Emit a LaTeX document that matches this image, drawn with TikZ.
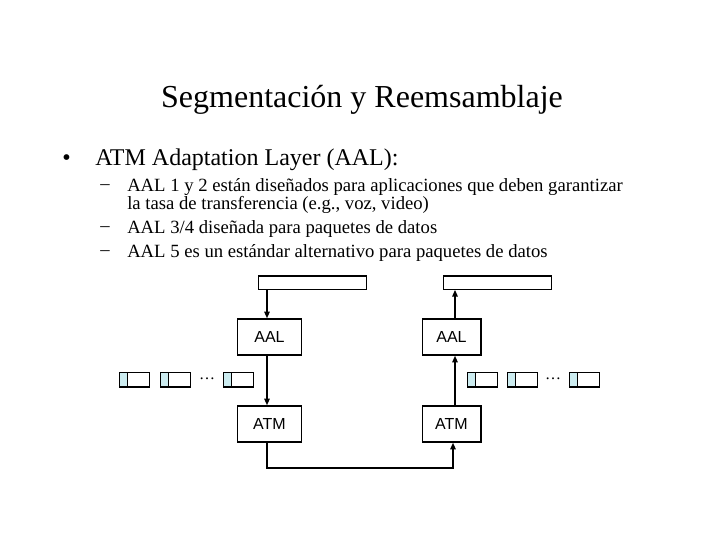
\documentclass[tikz,border=0pt]{standalone}
\usepackage{fontspec}
\setmainfont{Liberation Serif}
\newfontfamily\arial{Liberation Sans}
\usetikzlibrary{arrows.meta}
\definecolor{cellblue}{RGB}{204,236,240}
\begin{document}
\begin{tikzpicture}[x=0.75pt,y=-0.75pt,
  lbox/.style={draw,line width=1pt,minimum width=48pt,minimum height=27pt,font=\arial\fontsize{12}{12}\selectfont},
  bar/.style={draw,line width=1pt,minimum width=81pt,minimum height=10pt,inner sep=0pt},
  con/.style={line width=1.2pt,-{Triangle[length=5pt,width=4pt]}},
  plain/.style={line width=1.2pt},
  cellw/.style={draw,line width=1pt,minimum width=22.5pt,minimum height=11pt,inner sep=0pt},
  cellb/.style={draw,line width=1pt,fill=cellblue,minimum width=6pt,minimum height=11pt,inner sep=0pt},
  txt/.style={anchor=west,inner sep=0pt}]
\useasboundingbox (0,0) rectangle (720,540);
\node (title) at (362,100) {\fontsize{24}{28}\selectfont Segmentación y Reemsamblaje};
\node[txt] (b1) at (62,160) {\fontsize{18}{20}\selectfont •};
\node[txt] (b1t) at (95,160) {\fontsize{18}{20}\selectfont ATM Adaptation Layer (AAL):};
\node[txt] (d1) at (100,187) {\fontsize{14}{16}\selectfont –};
\node[txt] (s1) at (127,187) {\fontsize{14}{16}\selectfont AAL 1 y 2 están diseñados para aplicaciones que deben garantizar};
\node[txt] (s1b) at (127,205) {\fontsize{14}{16}\selectfont la tasa de transferencia (e.g., voz, video)};
\node[txt] (d2) at (100,229) {\fontsize{14}{16}\selectfont –};
\node[txt] (s2) at (127,229) {\fontsize{14}{16}\selectfont AAL 3/4 diseñada para paquetes de datos};
\node[txt] (d3) at (100,253) {\fontsize{14}{16}\selectfont –};
\node[txt] (s3) at (127,253) {\fontsize{14}{16}\selectfont AAL 5 es un estándar alternativo para paquetes de datos};
% boxes
\node[bar] (barL) at (312.5,282.5) {};
\node[bar] (barR) at (497.5,282.5) {};
\node[lbox] (aalL) at (269.5,337) {AAL};
\node[lbox,minimum width=44pt] (aalR) at (451.5,337) {AAL};
\node[lbox] (atmL) at (269.5,424) {ATM};
\node[lbox,minimum width=44pt] (atmR) at (451.5,424) {ATM};
\coordinate (c1) at (267,468);
\coordinate (c2) at (453,468);
\draw[con] (barL.south -| 267,0) -- (aalL.north -| 267,0);
\draw[con] (aalL.south -| 267,0) -- (atmL.north -| 267,0);
\draw[con] (atmL.south -| 267,0) -- (c1) -- (c2) -- (atmR.south -| 453,0);
\draw[con] (atmR.north -| 455,0) -- (aalR.south -| 455,0);
\draw[con] (aalR.north -| 455,0) -- (barR.south -| 455,0);
% cells
\foreach \x/\n in {119/a,160/b,223/c,467/d,507/e,569/f}{
  \node[cellw,anchor=west] (w\n) at (\x,379.5) {};
  \node[cellb,anchor=west] (k\n) at (\x,379.5) {};
}
\node (dotsL) at (207,379) {\fontsize{12}{12}\selectfont\dots};
\node (dotsR) at (553,379) {\fontsize{12}{12}\selectfont\dots};
\end{tikzpicture}
\end{document}
